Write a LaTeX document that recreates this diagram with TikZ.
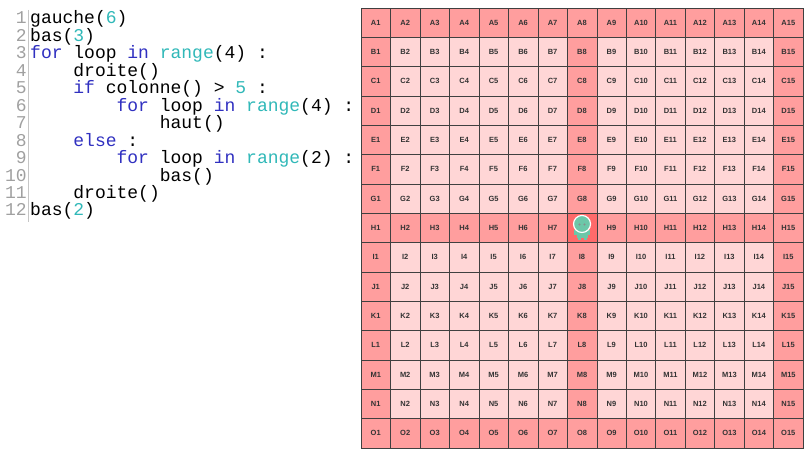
\documentclass[tikz,border=0pt]{standalone}
\usepackage{fontspec}
\setmonofont{Liberation Mono}
\setsansfont{Liberation Sans}
\definecolor{kw}{HTML}{3030C0}
\definecolor{nm}{HTML}{30B8B8}
\definecolor{ln}{HTML}{A0A0A0}
\definecolor{lite}{HTML}{FFD6D6}
\definecolor{dark}{HTML}{FF9E9E}
\definecolor{hot}{HTML}{FF6A6A}
\definecolor{bot}{HTML}{6CC7A8}
\newcommand{\K}[1]{\textcolor{kw}{#1}}
\newcommand{\N}[1]{\textcolor{nm}{#1}}
\begin{document}
\begin{tikzpicture}[x=1pt,y=-1pt,
  code/.style={anchor=west,inner sep=0pt,text height=11pt,text depth=3pt,font=\ttfamily\fontsize{18}{18}\selectfont},
  lnum/.style={anchor=east,inner sep=0pt,text height=11pt,text depth=3pt,text=ln,font=\ttfamily\fontsize{18}{18}\selectfont},
  cell/.style={draw=black!75,line width=0.5pt,minimum width=29.47pt,minimum height=29.33pt,inner sep=0pt,font=\sffamily\bfseries\fontsize{7.5}{7.5}\selectfont,text=black!80}]
\useasboundingbox (0,0) rectangle (810,457);
\draw[ln!60,line width=0.8pt] (28,10) -- (28,222);
\foreach \t [count=\i] in {
 {gauche(\N{6})},
 {bas(\N{3})},
 {\K{for} loop \K{in} \N{range}(4) :},
 {\ \ \ \ droite()},
 {\ \ \ \ \K{if} colonne() > \N{5} :},
 {\ \ \ \ \ \ \ \ \K{for} loop \K{in} \N{range}(4) :},
 {\ \ \ \ \ \ \ \ \ \ \ \ haut()},
 {\ \ \ \ \K{else} :},
 {\ \ \ \ \ \ \ \ \K{for} loop \K{in} \N{range}(2) :},
 {\ \ \ \ \ \ \ \ \ \ \ \ bas()},
 {\ \ \ \ droite()},
 {bas(\N{2})}}{
  \node[code] (c\i) at (30,{20+17.45*(\i-1)}) {\t};
  \node[lnum] (n\i) at (27,{20+17.45*(\i-1)}) {\i};
}
\foreach \r [count=\ri] in {A,B,C,D,E,F,G,H,I,J,K,L,M,N,O}{
 \foreach \c in {1,...,15}{
  \pgfmathsetmacro{\isdark}{(\ri==1)||(\ri==15)||(\ri==8)||(\c==1)||(\c==15)||(\c==8)}
  \ifnum\isdark=1 \def\fc{dark}\else\def\fc{lite}\fi
  \ifnum\ri=8 \ifnum\c=8 \def\fc{hot}\fi\fi
  \node[cell,fill=\fc] (\r\c) at ({361+29.47*(\c-0.5)},{8+29.33*(\ri-0.5)}) {\ifnum\ri=8 \ifnum\c=8 \else\r\c\fi\else\r\c\fi};
 }}
% robot in H8
\begin{scope}[shift={(H8.center)}]
 \fill[bot] (-5.5,1) rectangle (5.5,10);
 \fill[bot] (-4.5,9) rectangle (-1.5,12);
 \fill[bot] (1.5,9) rectangle (4.5,12);
 \fill[bot] (-8,2) rectangle (-5.5,7);
 \fill[bot] (5.5,2) rectangle (8,7);
 \draw[white,line width=1.2pt,fill=bot] (0,-4) circle (8.5);
 \fill[black!45] (-2.5,-3.5) circle (1.1);
 \fill[black!45] (2.5,-3.5) circle (1.1);
\end{scope}
\end{tikzpicture}
\end{document}
